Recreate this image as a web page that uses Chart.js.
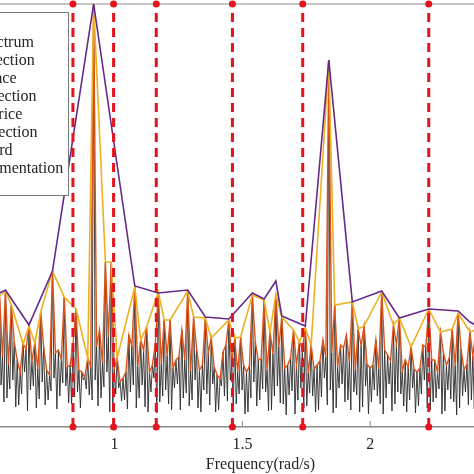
<!DOCTYPE html>
<html>
<head>
<meta charset="utf-8">
<script src="https://cdn.jsdelivr.net/npm/chart.js@4/dist/chart.umd.min.js"></script>
<style>
  html, body { margin: 0; padding: 0; background: #fff; overflow: hidden; }
  /* the figure is a crop: the full 0..pi axis is wider than the window */
  #wrap { position: absolute; left: -145px; top: 0; width: 811px; height: 474px; }
</style>
</head>
<body>
<div id="wrap"><canvas id="chart" width="811" height="474"></canvas></div>
<script>
// spectrum sampled on a uniform frequency grid (rad/s)
const FREQ_START = 0.55;
const FREQ_STEP = 0.023;

// main local maxima of the spectrum
const spectrumPeaks = [
  1.31, 1.36, 1.22, 0.67, 0.83, 1.01, 0.84, 1.15, 0.57, 1.56,
  0.77, 1.30, 0.62, 1.18, 0.55, 0.69, 4.23, 0.97, 1.65, 1.65,
  0.69, 0.49, 0.92, 1.40, 0.87, 1.00, 0.62, 1.35, 1.07, 1.07,
  0.67, 0.97, 1.36, 1.10, 0.57, 1.09, 0.89, 0.52, 0.75, 1.07,
  0.89, 0.90, 0.55, 1.32, 0.67, 1.27, 0.95, 1.33, 1.10, 0.62,
  0.97, 0.85, 0.99, 0.82, 0.62, 0.87, 3.67, 1.22, 0.82, 0.92,
  1.25, 0.98, 1.01, 0.59, 0.87, 1.35, 0.72, 1.02, 1.09, 0.67,
  0.80, 0.55, 0.82, 1.18, 0.67, 0.95, 0.62, 0.98, 1.14, 0.57,
  0.95, 0.97,
];
// between two peaks the spectrum goes: trough A, small bump, trough B
const spectrumTroughA = [
  0.42, 0.29, 0.47, 0.22, 0.55, 0.37, 0.19, 0.45, 0.27, 0.49,
  0.31, 0.41, 0.23, 0.35, 0.47, 0.32, 0.47, 0.29, 0.55, 0.17,
  0.39, 0.27, 0.35, 0.19, 0.42, 0.15, 0.49, 0.25, 0.37, 0.17,
  0.43, 0.29, 0.21, 0.47, 0.15, 0.33, 0.43, 0.17, 0.31, 0.47,
  0.23, 0.37, 0.15, 0.45, 0.27, 0.35, 0.17, 0.41, 0.23, 0.32,
  0.13, 0.39, 0.21, 0.31, 0.17, 0.49, 0.37, 0.19, 0.43, 0.27,
  0.35, 0.15, 0.41, 0.25, 0.31, 0.13, 0.43, 0.23, 0.33, 0.15,
  0.39, 0.21, 0.47, 0.17, 0.29, 0.13, 0.37, 0.25, 0.19, 0.35,
  0.27,
];
const spectrumBumps = [
  0.70, 0.62, 0.85, 0.55, 0.78, 0.66, 0.58, 0.80, 0.52, 0.74,
  0.68, 0.60, 0.83, 0.57, 0.50, 0.60, 0.80, 0.64, 0.90, 0.58,
  0.45, 0.55, 0.81, 0.60, 0.77, 0.55, 0.84, 0.63, 0.71, 0.59,
  0.70, 0.67, 0.56, 0.79, 0.62, 0.74, 0.60, 0.48, 0.82, 0.64,
  0.55, 0.62, 0.61, 0.85, 0.68, 0.57, 0.73, 0.80, 0.59, 0.69,
  0.62, 0.78, 0.54, 0.58, 0.66, 0.70, 0.74, 0.60, 0.79, 0.65,
  0.57, 0.81, 0.63, 0.62, 0.58, 0.77, 0.66, 0.83, 0.56, 0.60,
  0.58, 0.59, 0.80, 0.67, 0.55, 0.74, 0.69, 0.61, 0.78, 0.63,
  0.71,
];
const spectrumTroughB = [
  0.25, 0.38, 0.20, 0.33, 0.16, 0.41, 0.28, 0.22, 0.36, 0.18,
  0.44, 0.24, 0.30, 0.19, 0.38, 0.27, 0.21, 0.40, 0.15, 0.33,
  0.26, 0.18, 0.42, 0.29, 0.20, 0.35, 0.14, 0.31, 0.23, 0.39,
  0.17, 0.34, 0.27, 0.19, 0.37, 0.22, 0.15, 0.41, 0.26, 0.18,
  0.33, 0.13, 0.29, 0.21, 0.38, 0.16, 0.31, 0.24, 0.12, 0.36,
  0.27, 0.19, 0.34, 0.15, 0.30, 0.22, 0.14, 0.39, 0.25, 0.17,
  0.32, 0.20, 0.13, 0.37, 0.23, 0.29, 0.16, 0.35, 0.21, 0.27,
  0.14, 0.33, 0.19, 0.25, 0.38, 0.16, 0.28, 0.12, 0.31, 0.22,
  0.18,
];

// second level (yellow): grid index + amplitude
const yellowIdx = [0, 1, 2, 4, 5, 6, 7, 9, 11, 13, 15, 16, 18, 19, 20, 23, 24, 25, 27, 28,
  29, 32, 33, 35, 36, 39, 40, 41, 43, 45, 46, 47, 48, 50, 51, 52, 53, 56, 57, 60,
  61, 62, 65, 67, 68, 70, 73, 75, 77, 78, 80, 81];
const yellowAmp = [1.31, 1.36, 1.22, 0.83, 1.01, 0.84, 1.15, 1.56, 1.30, 1.18, 0.69, 4.23, 1.65, 1.65, 0.69, 1.40, 0.87, 1.00, 1.35, 1.07,
  1.07, 1.36, 1.10, 1.09, 0.89, 1.07, 0.89, 0.90, 1.32, 1.27, 0.95, 1.33, 1.10, 0.97, 0.85, 0.99, 0.82, 3.67, 1.22, 1.25,
  0.98, 1.01, 1.35, 1.02, 1.09, 0.80, 1.18, 0.95, 0.98, 1.14, 0.95, 0.97];

// top level (purple)
const purpleIdx = [0, 1, 5, 9, 16, 23, 27, 32, 35, 39, 43, 45, 47, 48, 52, 56, 60, 65, 68, 73, 78, 80, 81];
const purpleAmp = [1.34, 1.37, 1.02, 1.56, 4.23, 1.41, 1.34, 1.37, 1.10, 1.08, 1.34, 1.28, 1.46, 1.11, 1.01, 3.67, 1.25, 1.36, 1.09, 1.18, 1.16, 1.05, 1.02];

// segmentation boundaries (rad/s)
const boundaries = [0.837, 0.996, 1.163, 1.461, 1.736, 2.229];

const legendLabels = ["DFT spectrum", "Peak detection", "Scale-space", "Edge detection",
  "Cost matrice", "Band detection", "Layer third", "Final segmentation"];

const X_MIN = 0;
const X_MAX = Math.PI;
const Y_MAX = 4.23;

const FONT = '"Liberation Serif", "Times New Roman", serif';
const COLORS = {
  spectrum: "#2a2a2a",
  orange: "#D95319",
  yellow: "#EDB120",
  purple: "#65298a",
  red: "#e3141d",
  axis: "#8a8a8a",
  text: "#262626",
};

const freqAt = (k) => FREQ_START + FREQ_STEP * k;

// full spectrum and its local maxima (orange)
const spectrum = [];
const orange = [];
spectrumPeaks.forEach((a, k) => {
  const f = freqAt(k);
  spectrum.push({ x: f, y: a });
  orange.push({ x: f, y: a });
  if (k < spectrumTroughA.length) {
    spectrum.push({ x: f + FREQ_STEP * 0.25, y: spectrumTroughA[k] });
    spectrum.push({ x: f + FREQ_STEP * 0.5, y: spectrumBumps[k] });
    spectrum.push({ x: f + FREQ_STEP * 0.75, y: spectrumTroughB[k] });
    orange.push({ x: f + FREQ_STEP * 0.5, y: spectrumBumps[k] });
  }
});
const yellow = yellowIdx.map((k, i) => ({ x: freqAt(k), y: yellowAmp[i] }));
const purple = purpleIdx.map((k, i) => ({ x: freqAt(k), y: purpleAmp[i] }));

function lineSet(data, color, width, order) {
  return { data, borderColor: color, borderWidth: width, pointRadius: 0, fill: false, tension: 0, order };
}

const boundarySets = boundaries.map((b) => ({
  data: [{ x: b, y: 0 }, { x: b, y: Y_MAX }],
  borderColor: COLORS.red,
  backgroundColor: COLORS.red,
  borderWidth: 3,
  borderDash: [9, 6],
  pointRadius: 3.5,
  pointBorderWidth: 0,
  clip: false,
  order: 0,
}));

const legendStyles = [
  { color: COLORS.spectrum, dash: [] },
  { color: COLORS.orange, dash: [] },
  { color: "#A2142F", dash: [] },
  { color: COLORS.yellow, dash: [] },
  { color: "#c0662a", dash: [] },
  { color: COLORS.purple, dash: [] },
  { color: "#777777", dash: [] },
  { color: COLORS.red, dash: [6, 4] },
];

const framePlugin = {
  id: "frame",
  beforeDatasetsDraw(chart) {
    const { ctx, chartArea } = chart;
    const xs = chart.scales.x;
    ctx.save();
    ctx.strokeStyle = COLORS.axis;
    ctx.lineWidth = 1.2;
    ctx.beginPath();
    ctx.moveTo(chartArea.left, chartArea.top);
    ctx.lineTo(chartArea.right, chartArea.top);
    ctx.stroke();
    // inward tick marks
    ctx.lineWidth = 1;
    xs.ticks.forEach((t) => {
      const px = xs.getPixelForValue(t.value);
      ctx.beginPath();
      ctx.moveTo(px, chartArea.bottom);
      ctx.lineTo(px, chartArea.bottom - 6);
      ctx.stroke();
    });
    ctx.restore();
  },
};

const boxLegendPlugin = {
  id: "boxLegend",
  afterDatasetsDraw(chart) {
    const { ctx } = chart;
    const left = 15, right = 213, top = 12, bottom = 195;
    ctx.save();
    ctx.fillStyle = "#fff";
    ctx.fillRect(left, top, right - left, bottom - top);
    ctx.strokeStyle = "#7a7a7a";
    ctx.lineWidth = 1;
    ctx.strokeRect(left + 0.5, top + 0.5, right - left, bottom - top);
    ctx.font = "16px " + FONT;
    ctx.textBaseline = "middle";
    legendLabels.forEach((label, i) => {
      const y = 42 + i * 18;
      const st = legendStyles[i];
      ctx.strokeStyle = st.color;
      ctx.lineWidth = 1.5;
      ctx.setLineDash(st.dash);
      ctx.beginPath();
      ctx.moveTo(26, y);
      ctx.lineTo(76, y);
      ctx.stroke();
      ctx.setLineDash([]);
      ctx.fillStyle = COLORS.text;
      ctx.fillText(label, 86, y + 1);
    });
    ctx.restore();
  },
};

new Chart(document.getElementById("chart"), {
  type: "line",
  data: {
    datasets: [
      ...boundarySets,
      lineSet(purple, COLORS.purple, 1.6, 1),
      lineSet(yellow, COLORS.yellow, 1.6, 2),
      lineSet(orange, COLORS.orange, 1.4, 3),
      lineSet(spectrum, COLORS.spectrum, 0.9, 4),
    ],
  },
  options: {
    responsive: false,
    animation: false,
    layout: { padding: { top: 4, left: 0, right: 0, bottom: 0 } },
    plugins: { legend: { display: false }, tooltip: { enabled: false } },
    scales: {
      x: {
        type: "linear",
        min: X_MIN,
        max: X_MAX,
        afterFit: (scale) => { scale.paddingLeft = 0; scale.paddingRight = 0; },
        ticks: {
          stepSize: 0.5,
          includeBounds: false,
          autoSkip: false,
          maxRotation: 0,
          padding: 10,
          color: COLORS.text,
          font: { family: FONT, size: 16, lineHeight: 1 },
          callback: (v) => String(v),
        },
        grid: { display: true, drawOnChartArea: false, drawTicks: false, tickLength: 0 },
        border: { display: true, color: COLORS.axis, width: 1.6 },
        title: {
          display: true,
          text: "Frequency(rad/s)",
          color: COLORS.text,
          font: { family: FONT, size: 16, lineHeight: 1 },
          padding: { top: -6, bottom: 1 },
        },
      },
      y: { display: false, min: 0, max: Y_MAX },
    },
  },
  plugins: [framePlugin, boxLegendPlugin],
});
</script>
</body>
</html>
